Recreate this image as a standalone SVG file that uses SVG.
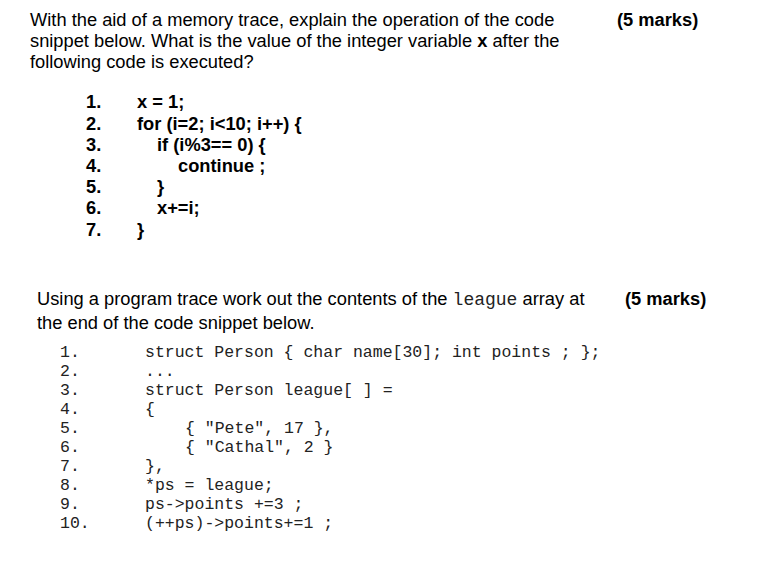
<svg xmlns="http://www.w3.org/2000/svg" width="767" height="573" viewBox="0 0 767 573">
<style>
.t{font-family:"Liberation Sans",Arial,sans-serif;font-size:18.3px;fill:#000}
.b{font-weight:bold}
.m{font-family:"Liberation Mono","Courier New",monospace;font-size:16.5px;fill:#222}
</style>
<rect width="767" height="573" fill="#fff"/>
<g id="q1">
<text class="t" x="30" y="26">With the aid of a memory trace, explain the operation of the code</text>
<text class="t b" x="617" y="26">(5 marks)</text>
<text class="t" x="30" y="47">snippet below. What is the value of the integer variable <tspan class="b">x</tspan> after the</text>
<text class="t" x="30" y="68">following code is executed?</text>
<g class="t b">
<text x="86" y="108">1.</text><text x="137" y="108">x = 1;</text>
<text x="86" y="130">2.</text><text x="137" y="130">for (i=2; i&lt;10; i++) {</text>
<text x="86" y="151">3.</text><text x="157" y="151">if (i%3== 0) {</text>
<text x="86" y="172">4.</text><text x="178" y="172">continue ;</text>
<text x="86" y="193">5.</text><text x="157" y="193">}</text>
<text x="86" y="214">6.</text><text x="157" y="214">x+=i;</text>
<text x="86" y="236">7.</text><text x="137" y="236">}</text>
</g>
</g>
<g id="q2">
<text class="t" x="37" y="305">Using a program trace work out the contents of the <tspan class="m" style="font-size:18px">league</tspan> array at</text>
<text class="t b" x="625" y="305">(5 marks)</text>
<text class="t" x="37" y="329">the end of the code snippet below.</text>
<g class="m">
<text x="60" y="357">1.</text><text x="145" y="357">struct Person { char name[30]; int points ; };</text>
<text x="60" y="376">2.</text><text x="145" y="376">...</text>
<text x="60" y="395">3.</text><text x="145" y="395">struct Person league[ ] =</text>
<text x="60" y="414">4.</text><text x="145" y="414">{</text>
<text x="60" y="433">5.</text><text x="185" y="433">{ "Pete", 17 },</text>
<text x="60" y="452">6.</text><text x="185" y="452">{ "Cathal", 2 }</text>
<text x="60" y="471">7.</text><text x="145" y="471">},</text>
<text x="60" y="490">8.</text><text x="145" y="490">*ps = league;</text>
<text x="60" y="509">9.</text><text x="145" y="509">ps-&gt;points +=3 ;</text>
<text x="60" y="528">10.</text><text x="145" y="528">(++ps)-&gt;points+=1 ;</text>
</g>
</g>
</svg>
